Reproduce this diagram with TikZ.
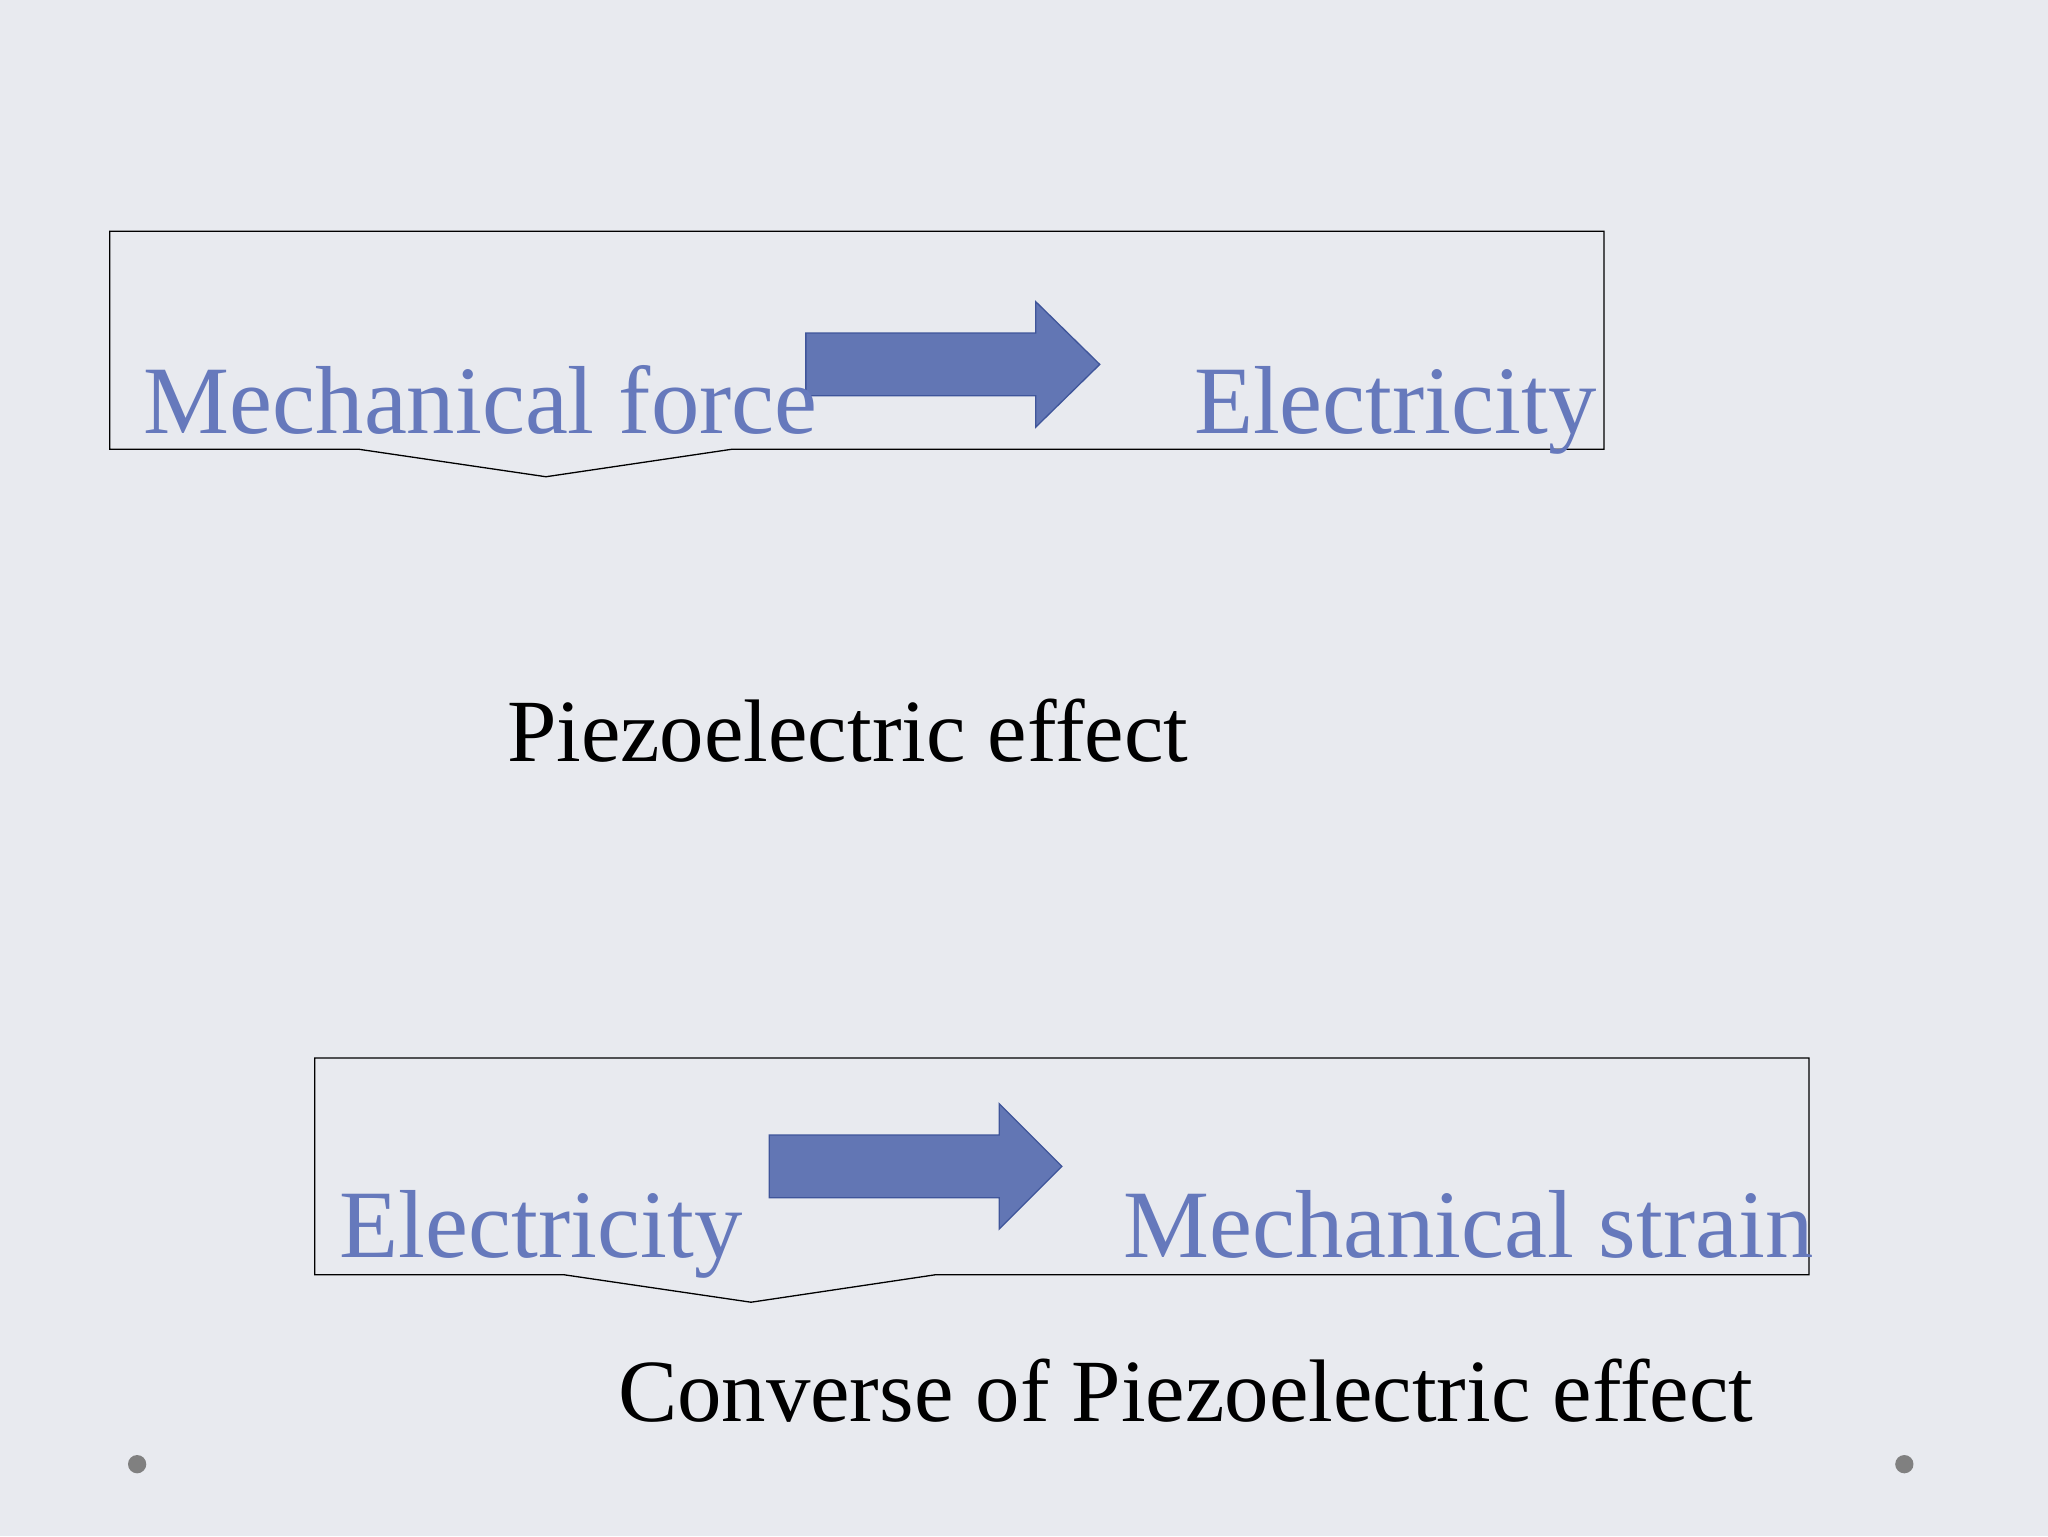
\documentclass[tikz,border=0pt]{standalone}
\usepackage{fontspec}
\setmainfont{Liberation Serif}
\definecolor{bg}{HTML}{E8EAEF}
\definecolor{blu}{HTML}{6276B4}
\definecolor{bluD}{HTML}{3F559A}
\definecolor{txtb}{HTML}{6679BC}
\begin{document}
\begin{tikzpicture}[x=1pt,y=-1pt,
  lab/.style={anchor=base west,inner sep=0pt,font=\fontsize{74}{80}\selectfont,text=txtb},
  ttl/.style={anchor=base west,inner sep=0pt,font=\fontsize{68}{74}\selectfont,text=black},
  callout/.style={draw=black,line width=1pt},
  fatarrow/.style={fill=blu,draw=bluD,line width=1pt}]
\fill[bg] (0,0) rectangle (1568,1176);
\useasboundingbox (0,0) rectangle (1568,1176);
% box 1
\draw[callout] (84,177) -- (1228,177) -- (1228,344) -- (560,344) -- (418,365) -- (275,344) -- (84,344) -- cycle;
\draw[fatarrow] (617,255) -- (793,255) -- (793,231) -- (842,279) -- (793,327) -- (793,303) -- (617,303) -- cycle;
\node[lab] (mf) at (110,332) {Mechanical force};
\node[lab] (el1) at (914,332) {Electricity};
\node[ttl] (pe) at (388,583) {Piezoelectric effect};
% box 2
\draw[callout] (241,810) -- (1385,810) -- (1385,976) -- (716,976) -- (575,997) -- (432,976) -- (241,976) -- cycle;
\draw[fatarrow] (589,869) -- (765,869) -- (765,845) -- (813,893) -- (765,941) -- (765,917) -- (589,917) -- cycle;
\node[lab] (el2) at (260,963) {Electricity};
\node[lab] (ms) at (860,963) {Mechanical strain};
\node[ttl] (cpe) at (473,1088) {Converse of Piezoelectric effect};
\fill[gray] (105,1121) circle (7);
\fill[gray] (1458,1121) circle (7);
\end{tikzpicture}
\end{document}
